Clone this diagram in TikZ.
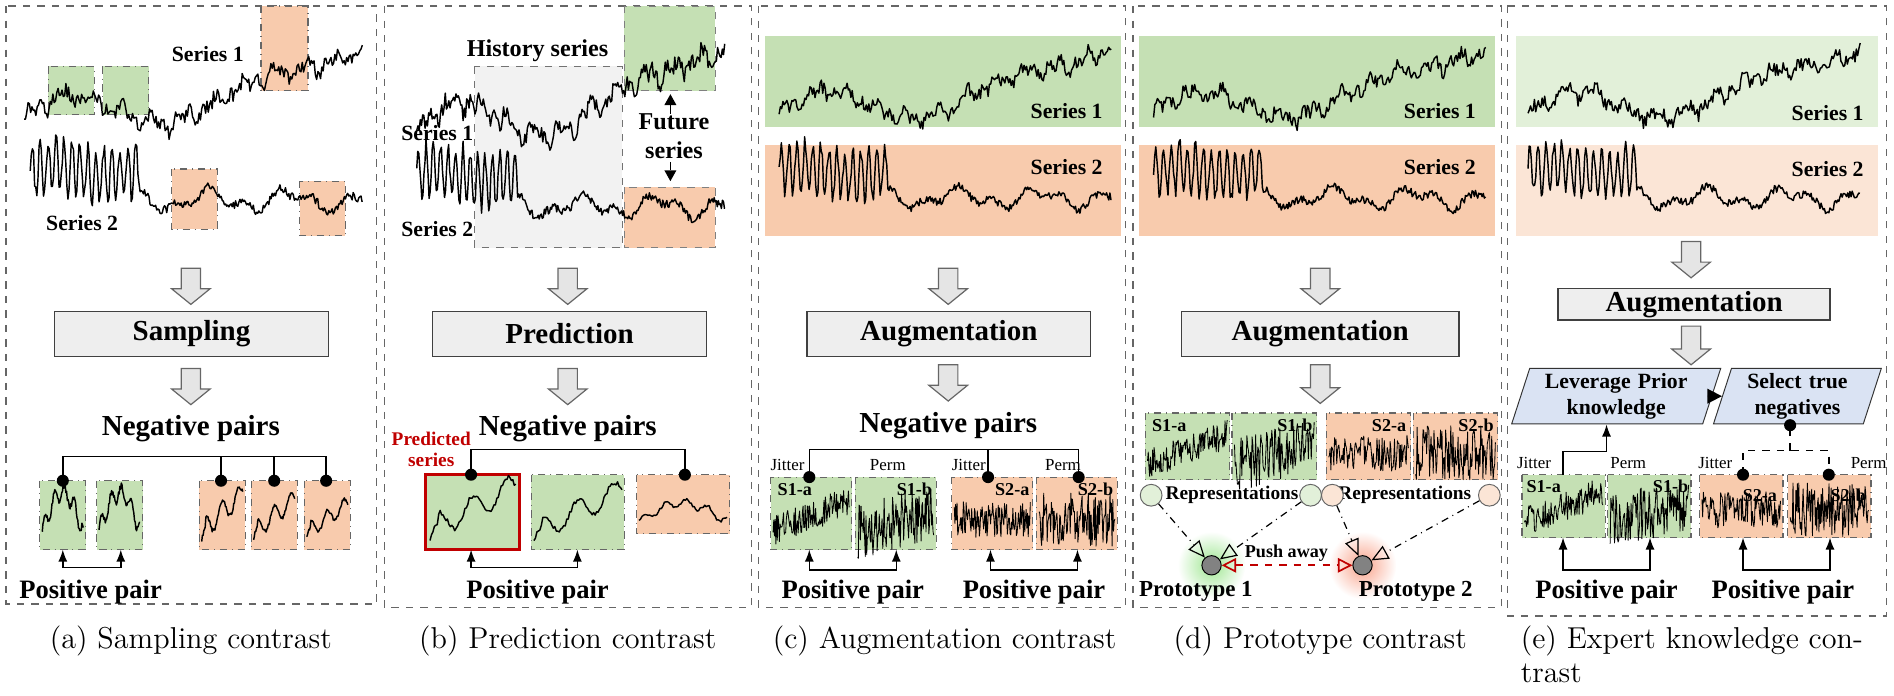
\documentclass[tikz,border=0pt]{standalone}
\usepackage{fontspec}
\newfontfamily\tnr{Liberation Serif}
\usetikzlibrary{arrows.meta,shapes.geometric}
\definecolor{grn}{HTML}{C5E0B4}
\definecolor{org}{HTML}{F8CBAD}
\definecolor{lgrn}{HTML}{E2F0D9}
\definecolor{lorg}{HTML}{FBE5D6}
\definecolor{blu}{HTML}{DAE3F3}
\definecolor{dred}{HTML}{C00000}
\tikzset{
 ln/.style={line width=0.6pt, line join=round},
 nz/.style={line width=0.35pt, line join=round},
 gbox/.style={fill=grn, draw=black!60, dash dot, line width=0.5pt},
 obox/.style={fill=org, draw=black!60, dash dot, line width=0.5pt},
 proc/.style={fill=gray!13, draw=black!75, line width=0.6pt},
 lbl/.style={font=\tnr\bfseries\fontsize{12}{12}\selectfont},
 slbl/.style={font=\tnr\bfseries\fontsize{9}{9}\selectfont},
 tlbl/.style={font=\tnr\fontsize{7}{7}\selectfont},
 blbl/.style={font=\tnr\bfseries\fontsize{7.5}{7.5}\selectfont},
 plbl/.style={font=\tnr\bfseries\fontsize{11}{11}\selectfont},
 panel/.style={draw=black!60, dashed, line width=0.5pt},
 dotn/.style={circle, fill=black, inner sep=0pt, minimum size=5pt},
 captxt/.style={font=\fontsize{12.5}{15}\selectfont, anchor=base},
 tree/.style={line width=0.6pt},
 pospair/.style={line width=0.6pt, {Latex[length=5pt]}-{Latex[length=5pt]}},
 para/.style={trapezium,trapezium left angle=72,trapezium right angle=108,draw=black!80,fill=blu,align=center,font=\tnr\bfseries\fontsize{9}{11}\selectfont,minimum height=23pt,inner sep=0.5pt},
}
\newcommand\serA[4]{\draw[ln] plot[domain=0:1,samples=260] ({#1+\x*(#2-#1)},{#3-#4*(0.9*\x*\x+0.35*sin(600*\x)*(1-\x)+0.07*sin(4000*\x)+0.05*sin(9000*\x)+0.09*rand)});}
\newcommand\serB[4]{\draw[ln] plot[domain=0:1,samples=300] ({#1+\x*(#2-#1)},{#3-#4*(\x<0.33 ? (0.2+0.5*sin(15000*\x)+0.1*sin(1200*\x)+0.15*rand) : (-0.35+0.15*sin(1500*\x)+0.1*sin(3500*\x)+0.08*rand))});}
\newcommand\bump[4]{\draw[ln] plot[domain=0:1,samples=60] ({#1+\x*(#2-#1)},{#3-#4*(0.7*sin(180*\x)+0.15*sin(1500*\x)+0.06*rand)});}
\newcommand\rise[4]{\draw[ln] plot[domain=0:1,samples=60] ({#1+\x*(#2-#1)},{#3-#4*(0.9*\x+0.25*sin(900*\x)-0.2*(\x<0.1?1:0)+0.05*rand)});}
\newcommand\noisy[6]{\draw[nz] plot[domain=0:1,samples=110] ({#1+\x*(#2-#1)},{#3-#4*(#5*\x+#6*rand)});}
\newcommand\garrow[3]{\draw[fill=gray!20,draw=black!60,line width=0.5pt] (#1-8,#2) -- (#1+8,#2) -- (#1+8,#2+#3-13) -- (#1+16,#2+#3-13) -- (#1,#2+#3) -- (#1-16,#2+#3-13) -- (#1-8,#2+#3-13) -- cycle;}
\begin{document}
\begin{tikzpicture}[x=0.5pt,y=-0.5pt]
\useasboundingbox (0,0) rectangle (1568,576);
\pgfmathsetseed{7}
% ---------------- panels
\draw[panel] (5,5) rectangle (312,500);
\draw[panel] (318,5) rectangle (622,503);
\draw[panel] (628,5) rectangle (932,503);
\draw[panel] (938,5) rectangle (1243,503);
\draw[panel] (1248,5) rectangle (1562,510);
% ---------------- (a)
\draw[gbox] (40,55) rectangle (78,95);
\draw[gbox] (85,55) rectangle (123,95);
\draw[obox] (216,5) rectangle (255,75);
\draw[obox] (142,140) rectangle (180,190);
\draw[obox] (248,150) rectangle (286,195);
\serA{20}{300}{100}{65}
\serB{25}{300}{150}{45}
\node[slbl] (a1) at (172,45) {Series 1};
\node[slbl] (a2) at (68,185) {Series 2};
\garrow{158}{222}{30}
\draw[proc] (45,258) rectangle (272,295); \node[lbl] (asamp) at (158.5,276.5) {Sampling};
\garrow{158}{305}{30}
\node[lbl] (aneg) at (158,355) {Negative pairs};
\draw[gbox] (33,398) rectangle (71,455); \draw[gbox] (80,398) rectangle (118,455);
\draw[obox] (165,398) rectangle (203,455); \draw[obox] (208,398) rectangle (246,455); \draw[obox] (252,398) rectangle (290,455);
\bump{35}{69}{440}{45}\bump{82}{116}{440}{45}
\rise{167}{201}{440}{35}\rise{210}{244}{440}{30}\rise{254}{288}{440}{25}
\draw[tree] (52,398) -- (52,378) -- (270,378) -- (270,398);
\draw[tree] (183,378) -- (183,398); \draw[tree] (227,378) -- (227,398);
\foreach \xx in {52,183,227,270} \node[dotn] at (\xx,398) {};
\draw[pospair] (52,455) -- (52,470) -- (100,470) -- (100,455);
\node[plbl] (apos) at (75,490) {Positive pair};
% ---------------- (b)
\draw[fill=gray!10,draw=black!55,dashed] (393,55) rectangle (515,205);
\draw[fill=grn,draw=black!50,dashed] (517,5) rectangle (592,75);
\draw[fill=org,draw=black!50,dashed] (517,155) rectangle (592,205);
\serA{345}{600}{110}{80}
\serB{345}{600}{155}{45}
\node[slbl,font=\tnr\bfseries\fontsize{10}{10}\selectfont] (bh) at (445,42) {History series};
\node[slbl,font=\tnr\bfseries\fontsize{10}{10}\selectfont,align=center] (bf) at (558,113) {Future\\[2pt]series};
\fill (555,78) -- (550,87) -- (560,87) -- cycle;
\fill (555,150) -- (550,141) -- (560,141) -- cycle;
\draw[line width=0.5pt] (555,87) -- (555,94); \draw[line width=0.5pt] (555,134) -- (555,141);
\node[slbl] (b1) at (362,110) {Series 1};
\node[slbl] (b2) at (362,190) {Series 2};
\garrow{470}{222}{30}
\draw[proc] (358,258) rectangle (585,295); \node[lbl] (bpred) at (471.5,276.5) {Prediction};
\garrow{470}{305}{30}
\node[lbl] (bneg) at (470,355) {Negative pairs};
\node[slbl,text=dred,align=center,font=\tnr\bfseries\fontsize{8}{9}\selectfont] (bps) at (357,372) {Predicted\\series};
\draw[fill=grn,draw=dred,line width=1.3pt] (352,393) rectangle (430,455);
\draw[gbox] (440,393) rectangle (517,455);
\draw[obox] (527,393) rectangle (604,442);
\rise{356}{427}{438}{40}\rise{442}{515}{440}{38}\bump{529}{602}{432}{22}
\draw[tree] (390,393) -- (390,372) -- (567,372) -- (567,393);
\node[dotn] at (390,393) {}; \node[dotn] at (567,393) {};
\draw[pospair] (390,455) -- (390,470) -- (478,470) -- (478,455);
\node[plbl] (bpos) at (445,490) {Positive pair};
% ---------------- (c)
\fill[grn] (633,30) rectangle (928,105);
\fill[org] (633,120) rectangle (928,195);
\serA{645}{920}{95}{60}
\serB{645}{920}{150}{40}
\node[slbl] (c1) at (883,92) {Series 1};
\node[slbl] (c2) at (883,138) {Series 2};
\garrow{785}{222}{30}
\draw[proc] (668,258) rectangle (903,295); \node[lbl] (caug) at (785.5,276.5) {Augmentation};
\garrow{785}{302}{30}
\node[lbl] (cneg) at (785,352) {Negative pairs};
\draw[gbox] (638,395) rectangle (705,455); \draw[gbox] (708,395) rectangle (775,455);
\draw[obox] (788,395) rectangle (855,455); \draw[obox] (858,395) rectangle (925,455);
\noisy{640}{703}{440}{25}{1}{0.5}\noisy{710}{773}{440}{25}{0.6}{0.9}\noisy{790}{853}{430}{25}{0}{0.6}\noisy{860}{923}{430}{25}{0}{0.9}
\node[blbl] at (658,405) {S1-a}; \node[blbl] at (757,405) {S1-b};
\node[blbl] at (838,405) {S2-a}; \node[blbl] at (907,405) {S2-b};
\node[tlbl] at (652,385) {Jitter}; \node[tlbl] at (735,385) {Perm};
\node[tlbl] at (802,385) {Jitter}; \node[tlbl] at (880,385) {Perm};
\draw[tree] (670,395) -- (670,372) -- (893,372) -- (893,395); \draw[tree] (818,372) -- (818,395);
\node[dotn] at (670,395) {}; \node[dotn] at (818,395) {}; \node[dotn] at (893,395) {};
\draw[pospair] (670,455) -- (670,472) -- (742,472) -- (742,455);
\draw[pospair] (820,455) -- (820,472) -- (892,472) -- (892,455);
\node[plbl] at (706,490) {Positive pair};
\node[plbl] at (856,490) {Positive pair};
% ---------------- (d)
\fill[grn] (943,30) rectangle (1238,105);
\fill[org] (943,120) rectangle (1238,195);
\serA{955}{1230}{95}{60}
\serB{955}{1230}{150}{40}
\node[slbl] (d1) at (1192,92) {Series 1};
\node[slbl] (d2) at (1192,138) {Series 2};
\garrow{1093}{222}{30}
\draw[proc] (978,258) rectangle (1208,295); \node[lbl] (daug) at (1093,276.5) {Augmentation};
\garrow{1093}{302}{32}
\draw[gbox] (948,342) rectangle (1018,397); \draw[gbox] (1020,342) rectangle (1090,397);
\draw[obox] (1098,342) rectangle (1168,397); \draw[obox] (1170,342) rectangle (1240,397);
\noisy{950}{1016}{385}{25}{1}{0.5}\noisy{1022}{1088}{385}{25}{0.6}{0.9}\noisy{1100}{1166}{375}{25}{0}{0.6}\noisy{1172}{1238}{375}{25}{0}{0.9}
\node[blbl] at (968,352) {S1-a}; \node[blbl] at (1072,352) {S1-b};
\node[blbl] at (1150,352) {S2-a}; \node[blbl] at (1222,352) {S2-b};
\node[blbl,font=\tnr\bfseries\fontsize{8}{8}\selectfont] at (1020,410) {Representations};
\node[blbl,font=\tnr\bfseries\fontsize{8}{8}\selectfont] at (1163,410) {Representations};
\node[circle,draw=black!60,fill=lgrn,minimum size=9pt,inner sep=0] (r1) at (953,410) {};
\node[circle,draw=black!60,fill=lgrn,minimum size=9pt,inner sep=0] (r2) at (1085,410) {};
\node[circle,draw=black!60,fill=lorg,minimum size=9pt,inner sep=0] (r3) at (1103,410) {};
\node[circle,draw=black!60,fill=lorg,minimum size=9pt,inner sep=0] (r4) at (1233,410) {};
\shade[inner color=grn!80!green, outer color=white] (1003,468) circle (28);
\shade[inner color=org!80!red, outer color=white] (1128,468) circle (28);
\node[circle,draw=black,fill=gray!60!black!70,minimum size=8pt,inner sep=0] (p1) at (1003,468) {};
\node[circle,draw=black,fill=gray!60!black!70,minimum size=8pt,inner sep=0] (p2) at (1128,468) {};
\foreach \r/\p in {r1/p1,r2/p1,r3/p2,r4/p2}
  \draw[dash dot,line width=0.5pt,-{Triangle[open,length=7pt,width=6pt]}] (\r) -- (\p);
\draw[dred,dashed,line width=0.7pt,{Triangle[open,length=6pt,width=6pt]}-{Triangle[open,length=6pt,width=6pt]}] (p1) -- (p2);
\node[blbl] (push) at (1065,458) {Push away};
\node[slbl,font=\tnr\bfseries\fontsize{9.5}{9.5}\selectfont] at (990,490) {Prototype 1};
\node[slbl,font=\tnr\bfseries\fontsize{9.5}{9.5}\selectfont] at (1172,490) {Prototype 2};
% ---------------- (e)
\fill[lgrn] (1255,30) rectangle (1555,105);
\fill[lorg] (1255,120) rectangle (1555,195);
\serA{1265}{1540}{95}{60}
\serB{1265}{1540}{150}{40}
\node[slbl] (e1) at (1513,94) {Series 1};
\node[slbl] (e2) at (1513,140) {Series 2};
\garrow{1400}{200}{30}
\draw[proc] (1290,239) rectangle (1515,265); \node[lbl] (eaug) at (1402.5,252) {Augmentation};
\garrow{1400}{270}{32}
\node[para,text width=62pt] (lev) at (1338,328) {Leverage Prior\\knowledge};
\node[para,text width=47pt] (sel) at (1488,328) {Select true\\negatives};
\draw[line width=0.7pt,-{Triangle[length=6pt,width=6pt]}] (lev.east) -- (sel.west);
\draw[gbox] (1260,393) rectangle (1329,445); \draw[gbox] (1331,393) rectangle (1400,445);
\draw[obox] (1407,393) rectangle (1476,445); \draw[obox] (1480,393) rectangle (1549,445);
\noisy{1262}{1327}{432}{25}{1}{0.5}\noisy{1333}{1398}{432}{25}{0.6}{0.9}\noisy{1409}{1474}{422}{25}{0}{0.6}\noisy{1482}{1547}{422}{25}{0}{0.9}
\node[blbl] at (1278,403) {S1-a}; \node[blbl] at (1383,403) {S1-b};
\node[blbl] at (1457,410) {S2-a}; \node[blbl] at (1530,410) {S2-b};
\node[tlbl] at (1270,383) {Jitter}; \node[tlbl] at (1348,383) {Perm};
\node[tlbl] at (1420,383) {Jitter}; \node[tlbl] at (1547,383) {Perm};
\coordinate (ej) at (1294,393);
\draw[line width=0.6pt,-{Latex[length=5pt]}] (ej) -- (1294,374) -- (1330,374) -- (lev.south -| 1330,0);
\draw[dashed,line width=0.6pt] (1443,393) -- (1443,373) -- (1514,373) -- (1514,393);
\draw[dashed,line width=0.6pt] (1482,373) -- (1482,352);
\node[dotn] at (1482,352) {}; \node[dotn] at (1443,393) {}; \node[dotn] at (1514,393) {};
\draw[pospair] (1294,445) -- (1294,472) -- (1366,472) -- (1366,445);
\draw[pospair] (1443,445) -- (1443,472) -- (1515,472) -- (1515,445);
\node[plbl] at (1330,490) {Positive pair};
\node[plbl] at (1476,490) {Positive pair};
% ---------------- captions
\node[captxt] at (158,537) {(a) Sampling contrast};
\node[captxt] at (470,537) {(b) Prediction contrast};
\node[captxt] at (782,537) {(c) Augmentation contrast};
\node[captxt] at (1093,537) {(d) Prototype contrast};
\node[captxt,anchor=base west] at (1252,537) {(e) Expert knowledge con-};
\node[captxt,anchor=base west] at (1252,565) {trast};
\end{tikzpicture}
\end{document}
